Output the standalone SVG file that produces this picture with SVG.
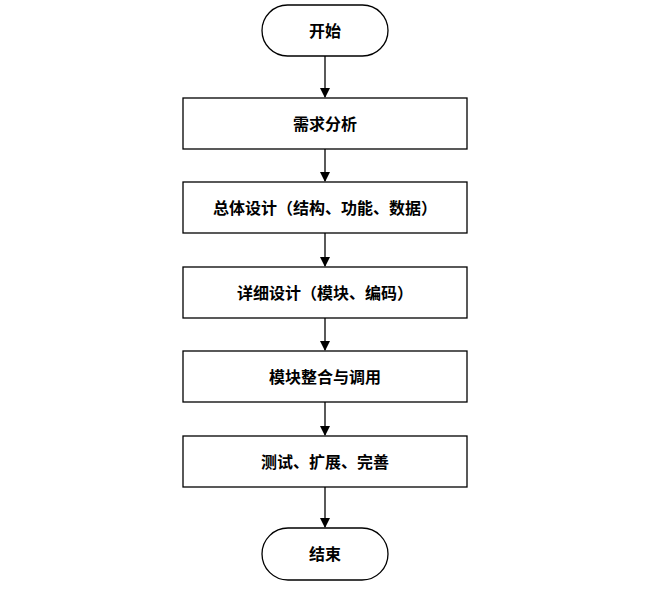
<svg xmlns="http://www.w3.org/2000/svg" width="654" height="592" viewBox="0 0 654 592">
<style>
.s{fill:#fff;stroke:#000;stroke-width:1.3}
.t{font-family:"Liberation Serif","Noto Sans CJK SC",serif;font-size:16px;font-weight:bold;text-anchor:middle;dominant-baseline:central}
.c{stroke:#000;stroke-width:1.3;fill:none;marker-end:url(#a)}
</style>
<defs><marker id="a" markerWidth="10" markerHeight="10" refX="9" refY="5" orient="auto" markerUnits="userSpaceOnUse"><path d="M0,0L10,5L0,10Z" fill="#000"/></marker></defs>
<rect width="654" height="592" fill="#fff"/>
<g id="connectors">
<path class="c" d="M325,56V97"/>
<path class="c" d="M325,149V181"/>
<path class="c" d="M325,233V266"/>
<path class="c" d="M325,318V350"/>
<path class="c" d="M325,402V435"/>
<path class="c" d="M325,487V527"/>
</g>
<g id="start"><rect class="s" x="262" y="5" width="126" height="51" rx="25.5"/><text class="t" x="325" y="31">开始</text></g>
<g id="n1"><rect class="s" x="183" y="98" width="284" height="51"/><text class="t" x="325" y="124">需求分析</text></g>
<g id="n2"><rect class="s" x="183" y="182" width="284" height="51"/><text class="t" x="325" y="208">总体设计（结构、功能、数据）</text></g>
<g id="n3"><rect class="s" x="183" y="267" width="284" height="51"/><text class="t" x="325" y="293">详细设计（模块、编码）</text></g>
<g id="n4"><rect class="s" x="183" y="351" width="284" height="51"/><text class="t" x="325" y="377">模块整合与调用</text></g>
<g id="n5"><rect class="s" x="183" y="436" width="284" height="51"/><text class="t" x="325" y="462">测试、扩展、完善</text></g>
<g id="end"><rect class="s" x="262" y="528" width="126" height="52" rx="26"/><text class="t" x="325" y="554">结束</text></g>
</svg>
